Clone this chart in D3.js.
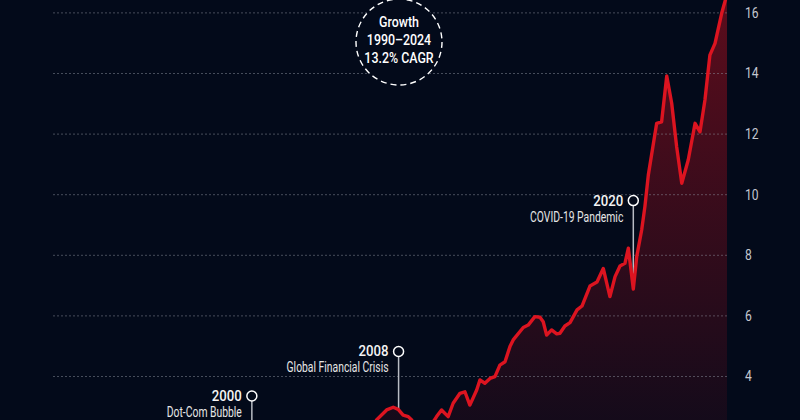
<!DOCTYPE html>
<html>
<head>
<meta charset="utf-8">
<script src="https://cdn.jsdelivr.net/npm/d3@7.9.0/dist/d3.min.js"></script>
<style>
  html, body { margin: 0; padding: 0; background: #030a1a; }
  svg { display: block; }
  .tick-label { font-family: Roboto, sans-serif; font-size: 15.5px; fill: #c3c7d0; }
  .anno-year { font-family: Roboto, sans-serif; font-weight: 500; font-size: 15px; fill: #f4f4f4; }
  .anno-text { font-family: Roboto, sans-serif; font-size: 14px; fill: #e6e6e6; }
  .growth { font-family: Roboto, sans-serif; font-weight: 500; font-size: 15.5px; fill: #ffffff; }
</style>
</head>
<body>
<svg id="chart" width="800" height="420"></svg>
<script>
// decimal years and values
const years = [1990, 1990.6, 1991, 1992, 1993, 1994, 1995, 1996, 1997, 1998, 1998.6, 1999, 1999.5,
  2000.2, 2000.7, 2001.2, 2001.7, 2002.2, 2002.75, 2003.2, 2003.9, 2004.5, 2005.0, 2005.6, 2006.2,
  2006.5, 2006.76, 2007.29, 2007.64, 2007.90, 2008.16, 2008.43, 2008.61, 2008.9, 2009.2, 2009.5,
  2009.92, 2010.18, 2010.53, 2010.79, 2011.15, 2011.41, 2011.67, 2012.03, 2012.20, 2012.46, 2012.73,
  2012.99, 2013.25, 2013.52, 2013.78, 2013.95, 2014.48, 2014.74, 2015.09, 2015.36, 2015.53, 2015.71,
  2015.97, 2016.24, 2016.41, 2016.67, 2016.94, 2017.31, 2017.57, 2017.99, 2018.36, 2018.69, 2019.04,
  2019.31, 2019.57, 2019.83, 2020.01, 2020.27, 2020.45, 2020.71, 2020.88, 2021.06, 2021.50, 2021.76,
  2022.03, 2022.29, 2022.55, 2022.82, 2023.16, 2023.52, 2023.78, 2024.04, 2024.30, 2024.57, 2024.92, 2025.2];

const values = [0.24, 0.21, 0.27, 0.31, 0.36, 0.40, 0.42, 0.58, 0.78, 1.05, 0.95, 1.40, 1.65,
  2.30, 2.00, 1.60, 1.30, 1.45, 1.05, 1.15, 1.50, 1.65, 1.80, 1.95, 2.25,
  2.20, 2.55, 2.88, 2.97, 2.90, 2.71, 2.66, 2.55, 2.10, 1.75, 2.25,
  2.66, 2.88, 2.66, 3.10, 3.43, 3.48, 3.04, 3.54, 3.87, 3.76, 3.92,
  3.98, 4.36, 4.47, 4.97, 5.19, 5.60, 5.68, 5.96, 5.94, 5.79, 5.35,
  5.52, 5.39, 5.41, 5.65, 5.76, 6.18, 6.31, 6.97, 7.10, 7.55, 6.62,
  7.28, 7.63, 7.72, 8.22, 6.87, 7.94, 8.82, 9.59, 10.63, 12.34, 12.39,
  13.90, 13.00, 11.57, 10.36, 11.13, 12.34, 12.06, 13.11, 14.59, 14.98, 15.97, 16.60];

const yTicks = [4, 6, 8, 10, 12, 14, 16];

const annoYears = [2000.2, 2007.92, 2020.27];
const annoLabels = ["2000", "2008", "2020"];
const annoEvents = ["Dot-Com Bubble", "Global Financial Crisis", "COVID-19 Pandemic"];
const annoLevels = [3.34, 4.81, 9.79]; // height of marker, in axis units

const growthLines = ["Growth", "1990\u20132024", "13.2% CAGR"];

const W = 800, H = 420;
const bg = "#030a1a";
const red = "#dc1420";
const plotLeft = 53, plotRight = 727;

const svg = d3.select("#chart");
svg.append("rect").attr("width", W).attr("height", H).attr("fill", bg);

const x = d3.scaleLinear().domain([1990, 2025.2]).range([58, 727]);
const y = d3.scaleLinear().domain([0, 16]).range([497.2, 12.4]);

const data = years.map((t, i) => ({ t, v: values[i] }));

// squeeze text to mimic the condensed face of the original
function condense(sel, k) {
  sel.each(function () {
    const w = this.getComputedTextLength();
    d3.select(this).attr("textLength", w * k).attr("lengthAdjust", "spacingAndGlyphs");
  });
}

// gradient under the line
const defs = svg.append("defs");
const grad = defs.append("linearGradient")
  .attr("id", "fillGrad")
  .attr("gradientUnits", "userSpaceOnUse")
  .attr("x1", 0).attr("y1", 0).attr("x2", 0).attr("y2", H);
grad.append("stop").attr("offset", 0).attr("stop-color", "#c8101f").attr("stop-opacity", 0.45);
grad.append("stop").attr("offset", 1).attr("stop-color", "#c8101f").attr("stop-opacity", 0.09);

const area = d3.area()
  .x(d => x(d.t))
  .y0(y(0))
  .y1(d => y(d.v));

svg.append("path")
  .datum(data)
  .attr("d", area)
  .attr("fill", "url(#fillGrad)");

// grid lines
const grid = svg.append("g")
  .attr("transform", `translate(${plotRight},0)`)
  .call(d3.axisLeft(y).tickValues(yTicks).tickSize(plotRight - plotLeft).tickFormat(""));
grid.select(".domain").remove();
grid.selectAll("line")
  .attr("stroke", "#8a909c")
  .attr("stroke-opacity", 0.5)
  .attr("stroke-dasharray", "2,2");

// tick labels on the right
const yAxis = svg.append("g")
  .attr("transform", `translate(737,0)`)
  .call(d3.axisRight(y).tickValues(yTicks).tickSize(0).tickPadding(8));
yAxis.select(".domain").remove();
yAxis.selectAll("text").attr("class", "tick-label").attr("fill", null).call(condense, 0.78);

// value at an annotation year
function valueAt(t) {
  const i = d3.bisector(d => d.t).left(data, t);
  if (i <= 0) return data[0].v;
  const a = data[i - 1], b = data[i];
  return a.v + (b.v - a.v) * (t - a.t) / (b.t - a.t);
}

// annotation stems (below the line)
const anno = svg.append("g");
annoYears.forEach((t, i) => {
  anno.append("line")
    .attr("x1", x(t)).attr("x2", x(t))
    .attr("y1", y(annoLevels[i]) + 5)
    .attr("y2", y(valueAt(t)))
    .attr("stroke", "#b8bcc4")
    .attr("stroke-width", 1.5);
});

const line = d3.line()
  .x(d => x(d.t))
  .y(d => y(d.v));

svg.append("path")
  .datum(data)
  .attr("d", line)
  .attr("fill", "none")
  .attr("stroke", red)
  .attr("stroke-width", 3.4)
  .attr("stroke-linejoin", "round");

annoYears.forEach((t, i) => {
  const cx = x(t), cy = y(annoLevels[i]);
  svg.append("circle")
    .attr("cx", cx).attr("cy", cy).attr("r", 5)
    .attr("fill", bg)
    .attr("stroke", "#ffffff")
    .attr("stroke-width", 1.5);
  svg.append("text")
    .attr("class", "anno-year")
    .attr("x", cx - 10).attr("y", cy + 5)
    .attr("text-anchor", "end")
    .text(annoLabels[i])
    .call(condense, 0.88);
  svg.append("text")
    .attr("class", "anno-text")
    .attr("x", cx - 10).attr("y", cy + 21)
    .attr("text-anchor", "end")
    .text(annoEvents[i])
    .call(condense, 0.74);
});

// growth badge
const badge = svg.append("g").attr("transform", "translate(399,42)");
badge.append("circle")
  .attr("r", 43)
  .attr("fill", bg)
  .attr("stroke", "#ffffff")
  .attr("stroke-width", 1.4)
  .attr("stroke-dasharray", "6,4");
badge.selectAll("text.growth")
  .data(growthLines)
  .join("text")
  .attr("class", "growth")
  .attr("text-anchor", "middle")
  .attr("y", (d, i) => -15 + i * 18)
  .text(d => d)
  .call(condense, 0.8);
</script>
</body>
</html>
